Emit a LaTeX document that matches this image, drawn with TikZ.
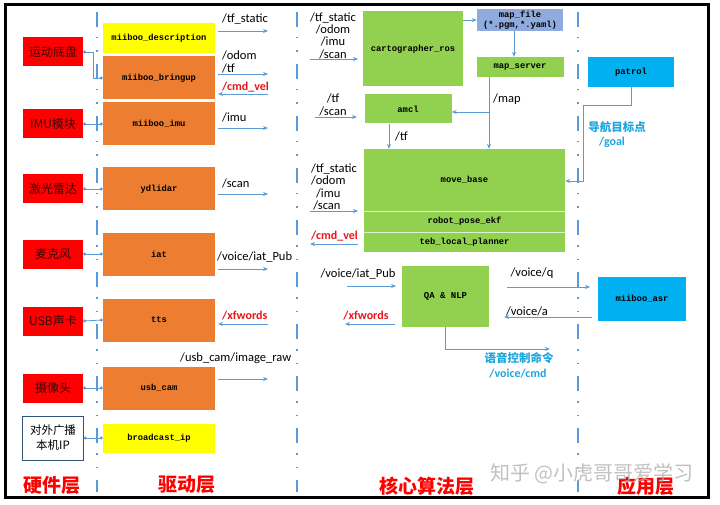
\documentclass[tikz,border=0pt]{standalone}
\usepackage{fontspec}
\setmainfont{Carlito}
\setmonofont{Liberation Mono}
\newfontfamily\cjk{Noto Sans CJK SC}
\usepackage{tikz}
\usetikzlibrary{arrows.meta}

\definecolor{hwred}{HTML}{FF0000}
\definecolor{hwtext}{HTML}{3A0505}
\definecolor{drvyellow}{HTML}{FFFF00}
\definecolor{drvorange}{HTML}{ED7D31}
\definecolor{coregreen}{HTML}{92D050}
\definecolor{mapblue}{HTML}{8FAADC}
\definecolor{appblue}{HTML}{00B0F0}
\definecolor{linkblue}{HTML}{5B9BD5}
\definecolor{cmdcyan}{HTML}{1CA6DF}
\definecolor{topicred}{HTML}{E8141B}

\tikzset{
	hwbox/.style={fill=hwred, minimum width=60pt, minimum height=29pt, inner sep=0pt, text=hwtext, font=\cjk\fontsize{12}{13}\selectfont},
	drvbox/.style={minimum width=112pt, minimum height=43pt, inner sep=0pt, font=\ttfamily\bfseries\fontsize{8.8}{10}\selectfont},
	corebox/.style={fill=coregreen, inner sep=0pt, font=\ttfamily\bfseries\fontsize{8.8}{10}\selectfont},
	appbox/.style={fill=appblue, inner sep=0pt, font=\ttfamily\bfseries\fontsize{8.8}{10}\selectfont},
	topic/.style={draw=linkblue, line width=0.8pt, -{Stealth[length=5pt,width=4pt]}},
	hwlink/.style={draw=linkblue, line width=0.8pt, {Circle[length=3pt]}-{Circle[length=3pt]}},
	layersep/.style={draw=linkblue, line width=2pt, dash pattern=on 15pt off 10pt on 1.5pt off 12pt on 1.5pt off 12pt},
	tlabel/.style={inner sep=0pt, font=\fontsize{12.5}{12.3}\selectfont},
	redlabel/.style={tlabel, text=topicred, font=\bfseries\fontsize{12}{12.3}\selectfont},
	cmdlabel/.style={inner sep=0pt, text=cmdcyan, font=\cjk\bfseries\fontsize{11.5}{15}\selectfont},
	layername/.style={text=hwred, font=\cjk\bfseries\fontsize{19}{20}\selectfont}
}

\begin{document}
\begin{tikzpicture}[x=1pt,y=-1pt]
		\useasboundingbox[fill=white] (0,0) rectangle (720,505);
		\draw[line width=3pt] (5,5) rectangle (708,497);

		% layer separators
		\foreach \lx in {97,297,578}{
				\draw[layersep] (\lx,12) -- (\lx,492);
		}

		% hardware layer
		\node[hwbox] (chassis) at (53,52) {运动底盘};
		\node[hwbox] (imuhw) at (53,124) {IMU模块};
		\node[hwbox] (lidarhw) at (53,189) {激光雷达};
		\node[hwbox] (mic) at (53,254) {麦克风};
		\node[hwbox] (card) at (53,321) {USB声卡};
		\node[hwbox] (camera) at (53,388) {摄像头};
		\node[draw=black!45!linkblue, fill=white, minimum width=61pt, minimum height=44pt, inner sep=0pt, align=center,
				font=\cjk\fontsize{11.5}{15}\selectfont] (ipbox) at (53,438) {对外广播\\本机IP};

		% driver layer
		\node[drvbox, fill=drvyellow, minimum height=30pt] (desc) at (159,38) {miiboo\_description};
		\node[drvbox, fill=drvorange] (bringup) at (159,78) {miiboo\_bringup};
		\node[drvbox, fill=drvorange] (imudrv) at (159,124) {miiboo\_imu};
		\node[drvbox, fill=drvorange] (ydlidar) at (159,189) {ydlidar};
		\node[drvbox, fill=drvorange] (iat) at (159,254) {iat};
		\node[drvbox, fill=drvorange] (tts) at (159,320) {tts};
		\node[drvbox, fill=drvorange] (usbcam) at (159,388) {usb\_cam};
		\node[drvbox, fill=drvyellow, minimum height=29pt] (bcast) at (159,438) {broadcast\_ip};

		\draw[hwlink] (chassis.east) -- ++(10,0) |- (bringup.west);
		\draw[hwlink] (imuhw.east) -- (imudrv.west);
		\draw[hwlink] (lidarhw.east) -- (ydlidar.west);
		\draw[hwlink] (mic.east) -- (iat.west);
		\draw[hwlink] (card.east) -- (tts.west);
		\draw[hwlink] (camera.east) -- (usbcam.west);
		\draw[hwlink] (ipbox.east) -- (bcast.west);

		% driver topics
		\foreach \n/\y in {tfs/31, odom/74, imu/128, scan/194, iatpub/269, img/379}{
				\coordinate (\n-s) at (218,\y);
				\coordinate (\n-e) at (268,\y);
				\draw[topic] (\n-s) -- (\n-e);
		}
		\foreach \n/\y in {cmdvel/94, xfw/324}{
				\coordinate (\n-s) at (268,\y);
				\coordinate (\n-e) at (218,\y);
				\draw[topic] (\n-s) -- (\n-e);
		}
		\node[tlabel, anchor=west] (ltfs) at (222,19) {/tf\_static};
		\node[tlabel, anchor=west, align=left] (lodom) at (222,62) {/odom\\/tf};
		\node[redlabel, anchor=west] (lcmd) at (222,87) {/cmd\_vel};
		\node[tlabel, anchor=west] (limu) at (222,117) {/imu};
		\node[tlabel, anchor=west] (lscan) at (222,183) {/scan};
		\node[tlabel, anchor=west] (liat) at (217,257) {/voice/iat\_Pub};
		\node[redlabel, anchor=west] (lxfw) at (222,316) {/xfwords};
		\node[tlabel, anchor=west] (limg) at (180,358) {/usb\_cam/image\_raw};

		% core algorithm layer
		\node[corebox, minimum width=100pt, minimum height=75pt] (carto) at (413,49) {cartographer\_ros};
		\node[fill=mapblue, minimum width=86pt, minimum height=22pt, inner sep=0pt, align=center,
				font=\ttfamily\bfseries\fontsize{8.8}{10.5}\selectfont] (mapfile) at (520,20) {map\_file\\(*.pgm,*.yaml)};
		\node[corebox, minimum width=87pt, minimum height=20pt] (mapserver) at (520,67) {map\_server};
		\node[corebox, minimum width=87pt, minimum height=29pt] (amcl) at (408,109) {amcl};
		\node[corebox, minimum width=201pt, minimum height=103pt] (movebase) at (464.5,200.5) {};
		\node[corebox, fill=none] (mbtext) at (464.5,180) {move\_base};
		\node[corebox, fill=none] (ekf) at (464.5,221.5) {robot\_pose\_ekf};
		\node[corebox, fill=none] (teb) at (464.5,242) {teb\_local\_planner};
		\draw[white!70!coregreen, line width=0.6pt] (movebase.west |- 0,211) -- (movebase.east |- 0,211);
		\draw[white!70!coregreen, line width=0.6pt] (movebase.west |- 0,232) -- (movebase.east |- 0,232);
		\node[corebox, minimum width=87pt, minimum height=61pt, font=\ttfamily\bfseries\fontsize{9}{10}\selectfont] (qa) at (445.5,296.5) {QA \& NLP};

		\draw[topic] (mapfile.west -| carto.east) -- (mapfile.west);
		\draw[topic] ([xshift=-6pt]mapfile.south) -- ([xshift=-6pt]mapfile.south |- mapserver.north);
		\coordinate (mapdrop) at ([xshift=-31pt]mapserver.south);
		\draw[topic] (mapdrop) -- (mapdrop |- movebase.north);
		\draw[topic] (mapdrop |- 0,112) -- (amcl.east |- 0,112);
		\draw[topic] ([xshift=-19pt]amcl.south) -- ([xshift=-19pt]amcl.south |- movebase.north);
		\node[tlabel, anchor=west] (lmap) at (493,99) {/map};
		\node[tlabel, anchor=west] (ltf) at (395,136) {/tf};

		\foreach \n/\x/\y/\xx in {cin/310/59/358, ain/315/117/357, mbin/310/211/358, qain/347/286/396, vq/507/287/590}{
				\coordinate (\n-s) at (\x,\y);
				\coordinate (\n-e) at (\xx,\y);
				\draw[topic] (\n-s) -- (\n-e);
		}
		\foreach \n/\x/\y/\xx in {mbout/358/244/310, qaout/395/324/345, va/592/317/504}{
				\coordinate (\n-s) at (\x,\y);
				\coordinate (\n-e) at (\xx,\y);
				\draw[topic] (\n-s) -- (\n-e);
		}
		\node[tlabel, align=center] (lcin) at (333,35.5) {/tf\_static\\/odom\\/imu\\/scan};
		\node[tlabel, align=center] (lain) at (333,105) {/tf\\/scan};
		\node[tlabel, align=left, anchor=west] (lmbin) at (311,187) {/tf\_static\\/odom\\\ \,/imu\\\,/scan};
		\node[redlabel, anchor=west] (lmbout) at (311,236) {/cmd\_vel};
		\node[tlabel] (lqain) at (358,274) {/voice/iat\_Pub};
		\node[redlabel] (lqaout) at (366,316) {/xfwords};
		\node[tlabel] (lvq) at (532,273) {/voice/q};
		\node[tlabel] (lva) at (527,311) {/voice/a};

		\draw[topic] (qa.south) |- (550,349);
		\node[cmdlabel] (lcmdcn) at (519,358) {语音控制命令};
		\node[cmdlabel, font=\bfseries\fontsize{12}{12}\selectfont] (lcmden) at (518,374) {/voice/cmd};

		% application layer
		\node[appbox, minimum width=86pt, minimum height=30pt] (patrol) at (631,72) {patrol};
		\node[appbox, minimum width=88pt, minimum height=44pt] (asr) at (642,299) {miiboo\_asr};
		\draw[topic] (patrol.south) -- (631,105) -- (583,105) -- (583,181) -- (movebase.east |- 0,181);
		\node[cmdlabel] (lgoalcn) at (617,127) {导航目标点};
		\node[cmdlabel, font=\bfseries\fontsize{12}{12}\selectfont] (lgoal) at (612,142) {/goal};

		% layer names
		\node[layername] (nhw) at (52,485) {硬件层};
		\node[layername] (ndrv) at (187,485) {驱动层};
		\node[layername] (ncore) at (427,486) {核心算法层};
		\node[layername] (napp) at (646,486) {应用层};

		\node[text=black!30, opacity=0.8, font=\cjk\fontsize{20}{22}\selectfont] (mark) at (592,474) {知乎 @小虎哥哥爱学习};
\end{tikzpicture}
\end{document}
